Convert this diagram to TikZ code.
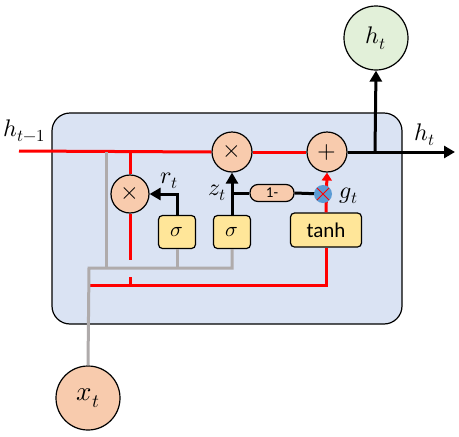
\documentclass[tikz,border=0pt]{standalone}
\usepackage{amsmath}
\usepackage{fontspec}
\usepackage{unicode-math}
\setmathfont{Latin Modern Math}
\newfontfamily\calib{Carlito}
\usetikzlibrary{positioning,calc,arrows.meta}
\definecolor{cellblue}{HTML}{DAE3F3}
\definecolor{peach}{HTML}{F8CBAD}
\definecolor{gateyellow}{HTML}{FFE699}
\definecolor{outgreen}{HTML}{E2F0D9}
\definecolor{wiregray}{HTML}{AFABAB}
\definecolor{dotblue}{HTML}{5B9BD5}
\tikzset{
	font=\fontsize{24}{26}\selectfont,
	op/.style={circle, draw, line width=1.2pt, fill=peach, minimum size=40pt, inner sep=0pt, font=\fontsize{24}{26}\selectfont},
	gatebox/.style={draw, line width=1.2pt, fill=gateyellow, rounded corners=4pt, inner sep=0pt},
	io/.style={circle, draw, line width=1.2pt, minimum size=64pt, inner sep=0pt},
	redw/.style={red, line width=3pt},
	grayw/.style={wiregray, line width=3pt},
	blackw/.style={black, line width=3pt},
	tip/.style={-{Triangle[length=11pt,width=12pt]}},
}

\begin{document}
\begin{tikzpicture}[x=1pt, y=-1pt]
	\useasboundingbox (0,0) rectangle (459,437);
	% cell
	\draw[line width=1.2pt, fill=cellblue, rounded corners=18pt] (52,113) rectangle (402,324);

	\node[op] (mulh) at (232,152) {$\times$};
	\node[op] (add) at (327,152) {$+$};
	\node[op, minimum size=38pt] (mulr) at (130,194) {$\times$};
	\node[gatebox, minimum width=37pt, minimum height=33pt, font=\fontsize{21}{23}\selectfont] (sigr) at (177,232) {$\sigma$};
	\node[gatebox, minimum width=37pt, minimum height=33pt, font=\fontsize{21}{23}\selectfont] (sigz) at (232,232) {$\sigma$};
	\node[gatebox, minimum width=71pt, minimum height=34pt, font=\calib\fontsize{21}{23}\selectfont] (tanh) at (326,230) {tanh};
	\node[draw, line width=1.2pt, fill=peach, rounded corners=8pt, minimum width=44pt, minimum height=17pt, inner sep=0pt, font=\calib\fontsize{15}{17}\selectfont] (onem) at (272,193) {1-};
	\node[io, fill=outgreen] (hout) at (376,38) {$h_t$};
	\node[io, fill=peach, font=\fontsize{27}{29}\selectfont] (xin) at (88,398) {$x_t$};

	\coordinate (hin) at (19,151);
	\coordinate (hend) at (455,152);
	\coordinate (split) at (375,152);
	\coordinate (gate) at (323,194);

	% red wires
	\draw[redw] (hin) -- (mulh.west);
	\draw[redw] (mulh.east) -- (add.west);
	\draw[redw] (130,151) -- (mulr.north);
	\draw[redw] (mulr.south) -- (130,260);
	\draw[redw] (130,277) -- (130,285);
	\draw[redw] (89,285) -- (326,285) -- (tanh.south);
	\draw[redw, -{Triangle[length=8pt,width=10pt]}] (tanh.north) -- (add.south);

	% gray wires
	\draw[grayw] (xin.north) -- (89,268) -- (232,268) -- (sigz.south);
	\draw[grayw] (106,268) -- (106,152);
	\draw[grayw] (177,268) -- (sigr.south);

	% black wires
	\draw[blackw, tip] (sigr.north) |- (mulr.east);
	\draw[blackw, tip] (sigz.north) -- (mulh.south);
	\draw[blackw] (232,193) -- (onem.west);
	\draw[blackw] (onem.east) -- (gate);
	\draw[blackw, tip] (add.east) -- (hend);
	\draw[blackw, tip] (split) -- (hout.south);

	% gate dot
	\fill[dotblue] (gate) circle (9pt);
	\draw[red, line width=0.8pt] ($(gate)+(-6,-6)$) -- ($(gate)+(6,6)$) ($(gate)+(-6,6)$) -- ($(gate)+(6,-6)$);

	% labels
	\node[anchor=base west, inner sep=0pt] at (3,136) {$h_{t-1}$};
	\node[anchor=base, inner sep=0pt] at (425,140) {$h_t$};
	\node[anchor=base, inner sep=0pt] at (169,183) {$r_t$};
	\node[anchor=base, inner sep=0pt] at (217,195) {$z_t$};
	\node[anchor=base, inner sep=0pt] at (349,198) {$g_t$};
\end{tikzpicture}
\end{document}
